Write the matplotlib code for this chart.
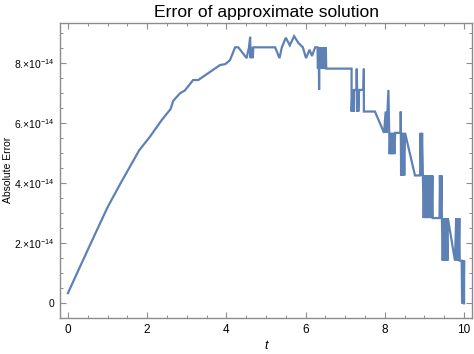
import matplotlib
matplotlib.use("Agg")
import matplotlib.pyplot as plt
from matplotlib.ticker import MultipleLocator

plt.rcParams['font.family'] = ['Liberation Sans', 'DejaVu Sans']
plt.rcParams['mathtext.default'] = 'regular'

# absolute error, in units of 1e-14
t = [0.0, 0.5, 1.0, 1.35, 1.8, 2.07, 2.37, 2.59, 2.66, 2.83, 2.95, 3.16, 3.29,
     3.84, 3.97, 4.09, 4.22, 4.3, 4.51, 4.57, 4.6,
     4.61, 4.62, 4.635, 4.65, 4.665, 4.68,
     5.23, 5.34, 5.4, 5.5, 5.6, 5.71, 5.82, 5.93, 6.01, 6.1, 6.16, 6.24, 6.3,
     6.31, 6.33, 6.34, 6.35, 6.37, 6.39, 6.41, 6.43, 6.45, 6.47, 6.49, 6.51, 6.52,
     7.16, 7.16, 7.18, 7.19, 7.21, 7.22, 7.23,
     7.28, 7.29, 7.3, 7.3, 7.32, 7.33, 7.35,
     7.46, 7.47, 7.47, 7.75, 7.98, 8.02, 8.04, 8.09, 8.11,
     8.12, 8.14, 8.16, 8.18, 8.2, 8.22, 8.24, 8.26,
     8.4, 8.4, 8.41, 8.43, 8.45, 8.47, 8.49, 8.51, 8.76, 8.89,
     8.9, 8.92, 8.94, 8.96,
     8.98, 9.0, 9.02, 9.04, 9.06, 9.08, 9.1, 9.12, 9.14, 9.16, 9.18, 9.2, 9.21,
     9.38, 9.39, 9.41, 9.43, 9.44,
     9.46, 9.48, 9.5, 9.52, 9.54, 9.56, 9.58, 9.59, 9.77,
     9.8, 9.82, 9.84, 9.86, 9.88, 9.89, 9.94,
     9.95, 9.96, 9.97, 9.98, 9.99, 10.0, 10.0]
err = [0.34, 1.78, 3.2, 4.05, 5.1, 5.55, 6.11, 6.47, 6.75, 7.0, 7.09, 7.44, 7.44,
       7.94, 7.97, 8.1, 8.53, 8.53, 8.17, 8.53, 8.88,
       8.17, 8.53, 8.17, 8.53, 8.17, 8.53,
       8.53, 8.17, 8.53, 8.85, 8.6, 8.9, 8.67, 8.53, 8.17, 8.45, 8.24, 8.53, 8.53,
       7.82, 8.53, 7.11, 8.53, 7.82, 8.53, 7.82, 8.53, 7.82, 8.53, 7.82, 8.53, 7.82,
       7.82, 6.39, 7.11, 6.39, 7.11, 6.39, 7.11,
       7.11, 7.82, 7.11, 6.39, 7.11, 6.39, 7.11,
       7.11, 7.82, 6.39, 6.39, 5.68, 6.39, 5.68, 7.11, 5.68,
       4.97, 5.68, 4.97, 5.68, 4.97, 5.68, 4.97, 5.68,
       5.68, 6.39, 4.26, 5.68, 4.26, 5.68, 4.26, 5.68, 4.26, 4.26,
       5.68, 4.26, 5.68, 4.26,
       2.84, 4.26, 2.84, 4.26, 2.84, 4.26, 2.84, 4.26, 2.84, 4.26, 2.84, 4.26, 2.84,
       2.84, 4.26, 2.84, 4.26, 2.84,
       1.42, 2.84, 1.42, 2.84, 1.42, 2.84, 1.42, 2.84, 1.42,
       2.84, 1.42, 2.84, 1.42, 2.84, 1.42, 1.42,
       0.0, 1.42, 0.0, 1.42, 0.0, 1.42, 0.0]

y_ticks = [0, 2, 4, 6, 8]
y_labels = ["0"] + [f"{v}.×10$^{{-14}}$" for v in y_ticks[1:]]
x_ticks = [0, 2, 4, 6, 8, 10]

fig = plt.figure(figsize=(4.74, 3.54), dpi=100)
ax = fig.add_axes([0.1266, 0.1017, 0.8692, 0.8333])

ax.plot(t, err, color='#5E81B5', lw=1.6, solid_joinstyle='miter')

ax.set_xlim(-0.2, 10.2)
ax.set_ylim(-0.49, 9.34)
ax.set_xticks(x_ticks)
ax.set_yticks(y_ticks)
ax.set_yticklabels(y_labels)
ax.xaxis.set_minor_locator(MultipleLocator(0.5))
ax.yaxis.set_minor_locator(MultipleLocator(0.5))

frame_col = '#8c8c8c'
for s in ax.spines.values():
    s.set_color(frame_col)
    s.set_linewidth(1.0)
ax.tick_params(which='both', direction='in', top=True, right=True,
               color=frame_col, labelsize=8.5, pad=4)
ax.tick_params(which='major', length=4, width=0.8)
ax.tick_params(which='minor', length=2.2, width=0.7)
ax.tick_params(axis='y', labelsize=7.5)

ax.set_xlabel('t', fontstyle='italic', fontsize=9, labelpad=3)
fig.text(0.017, 0.52, 'Absolute Error', rotation=90, fontsize=7.5,
         ha='center', va='center')
ax.set_title('Error of approximate solution', fontsize=12.6, pad=4)

fig.savefig('out.png', dpi=100)
